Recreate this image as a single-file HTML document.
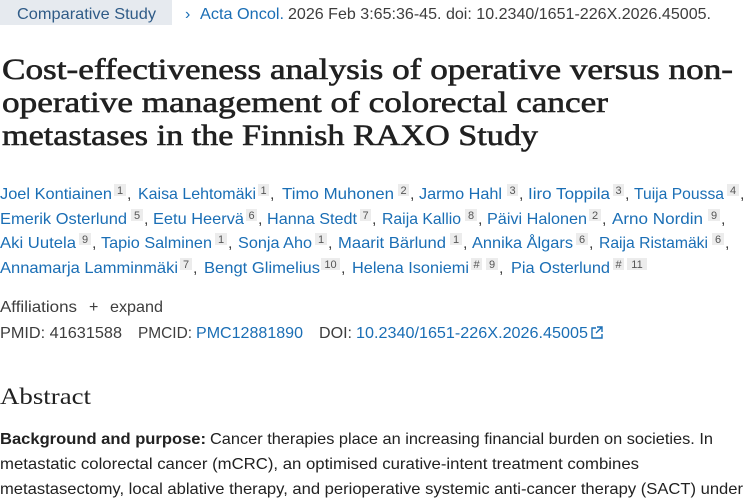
<!DOCTYPE html>
<html><head><meta charset="utf-8"><style>
html,body{margin:0;padding:0;background:#fff;width:750px;height:500px;overflow:hidden}
svg{display:block}
.s{font-family:"Liberation Sans",sans-serif;font-size:16px}
.l{fill:#1a6eb5}
.g{fill:#3d3d3d}
.t{font-family:"Liberation Serif",serif;font-size:30px;fill:#212121;stroke:#212121;stroke-width:0.6}
.sb{fill:#ececec}
.st{font-family:"Liberation Sans",sans-serif;font-size:11px;fill:#555}
</style></head><body>
<svg width="750" height="500" viewBox="0 0 750 500" xmlns="http://www.w3.org/2000/svg">
<rect x="0" y="0" width="172" height="25" fill="#e6eaef"/>
<text class="s" x="17" y="19" fill="#2f5b87" textLength="139" lengthAdjust="spacingAndGlyphs">Comparative Study</text>
<text class="s l" x="185" y="19">›</text>
<text class="s l" x="200" y="19" textLength="84" lengthAdjust="spacingAndGlyphs">Acta Oncol.</text>
<text class="s g" x="288" y="19" textLength="423" lengthAdjust="spacingAndGlyphs">2026 Feb 3:65:36-45. doi: 10.2340/1651-226X.2026.45005.</text>

<text class="t" x="2" y="79" textLength="731" lengthAdjust="spacingAndGlyphs">Cost-effectiveness analysis of operative versus non-</text>
<text class="t" x="2" y="112" textLength="606" lengthAdjust="spacingAndGlyphs">operative management of colorectal cancer</text>
<text class="t" x="2" y="145" textLength="536" lengthAdjust="spacingAndGlyphs">metastases in the Finnish RAXO Study</text>

<g id="authors"></g>

<text class="s g" x="0" y="312" textLength="77" lengthAdjust="spacingAndGlyphs">Affiliations</text>
<text class="s g" x="89" y="312" font-size="18">+</text>
<text class="s g" x="110" y="312" textLength="53" lengthAdjust="spacingAndGlyphs">expand</text>

<text class="s g" x="0" y="338" textLength="122" lengthAdjust="spacingAndGlyphs">PMID: 41631588</text>
<text class="s g" x="138" y="338" textLength="54" lengthAdjust="spacingAndGlyphs">PMCID:</text>
<text class="s l" x="196" y="338" textLength="107" lengthAdjust="spacingAndGlyphs">PMC12881890</text>
<text class="s g" x="319" y="338" textLength="33" lengthAdjust="spacingAndGlyphs">DOI:</text>
<text class="s l" x="356" y="338" textLength="232" lengthAdjust="spacingAndGlyphs">10.2340/1651-226X.2026.45005</text>
<g stroke="#1a6eb5" stroke-width="1.4" fill="none"><path d="M596 328 h-4 v10 h10 v-4"/><path d="M597 327 h5 v5 M602 327 l-6 6"/></g>

<text x="0" y="404" font-family="Liberation Serif,serif" font-size="23" fill="#212121" textLength="91" lengthAdjust="spacingAndGlyphs">Abstract</text>

<text class="s" x="0" y="444" fill="#212121" font-weight="bold" textLength="206" lengthAdjust="spacingAndGlyphs">Background and purpose:</text>
<text class="s" x="210" y="444" fill="#212121" textLength="503" lengthAdjust="spacingAndGlyphs">Cancer therapies place an increasing financial burden on societies. In</text>
<text class="s" x="0" y="469" fill="#212121" textLength="639" lengthAdjust="spacingAndGlyphs">metastatic colorectal cancer (mCRC), an optimised curative-intent treatment combines</text>
<text class="s" x="0" y="494" fill="#212121" textLength="743" lengthAdjust="spacingAndGlyphs">metastasectomy, local ablative therapy, and perioperative systemic anti-cancer therapy (SACT) under</text>
</svg>
<script>
var L=[[199,[["Joel Kontiainen",0,112,["1",114,126]],["Kaisa Lehtomäki",138,256,["1",258,269]],["Timo Muhonen",282,394,["2",398,409]],["Jarmo Hahl",419,502,["3",507,518]],["Iiro Toppila",528,610,["3",613,624]],["Tuija Poussa",634,724,["4",727,739]]],1],
[224,[["Emerik Osterlund",0,127,["5",131,143]],["Eetu Heervä",153,244,["6",246,257]],["Hanna Stedt",267,357,["7",360,371]],["Raija Kallio",382,461,["8",465,477]],["Päivi Halonen",487,587,["2",589,601]],["Arno Nordin",612,703,["9",708,720]]],1],
[248,[["Aki Uutela",0,76,["9",79,91]],["Tapio Salminen",101,212,["1",215,227]],["Sonja Aho",238,312,["1",315,327]],["Maarit Bärlund",338,446,["1",450,462]],["Annika Ålgars",472,573,["6",576,588]],["Raija Ristamäki",599,708,["6",712,724]]],1],
[273,[["Annamarja Lamminmäki",0,178,["7",180,192]],["Bengt Glimelius",204,320,["10",321,340]],["Helena Isoniemi",352,469,["#",471,482],["9",486,498]],["Pia Osterlund",511,610,["#",613,624],["11",627,647]]],0]];
var g=document.getElementById("authors"),h="";
L.forEach(function(r){var y=r[0],a=r[1];a.forEach(function(n,i){
h+='<text class="s l" x="'+n[1]+'" y="'+y+'" textLength="'+(n[2]-n[1])+'" lengthAdjust="spacingAndGlyphs">'+n[0]+'</text>';
var e=0;for(var k=3;k<n.length;k++){var s=n[k];
h+='<rect class="sb" x="'+s[1]+'" y="'+(y-15)+'" width="'+(s[2]-s[1])+'" height="12"/>';
h+='<text class="st" x="'+((s[1]+s[2])/2)+'" y="'+(y-5)+'" text-anchor="middle">'+s[0]+'</text>';e=s[2];}
if(i<a.length-1||r[2])h+='<text class="s g" x="'+(e+1)+'" y="'+y+'">,</text>';});});
g.innerHTML=h;
</script>
</body></html>
